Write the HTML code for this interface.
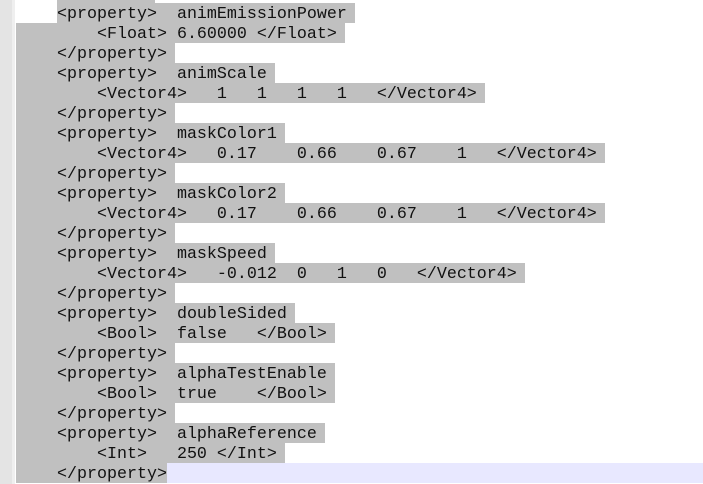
<!DOCTYPE html>
<html><head><meta charset="utf-8"><style>
html,body{margin:0;padding:0;width:703px;height:484px;overflow:hidden;background:#fff;position:relative}
.g1{position:absolute;left:0;top:0;width:12px;height:484px;background:#e4e4e4}
.g2{position:absolute;left:12px;top:0;width:3px;height:484px;background:#efefef}
.sel{position:absolute;height:20px;background:#c0c0c0}
.cur{position:absolute;left:16px;top:463px;width:687px;height:20px;background:#e8e8ff}
.t{position:absolute;font-family:"Liberation Mono","Courier New",monospace;font-size:16.67px;line-height:20px;height:20px;color:#111;white-space:pre;margin-top:2px}
</style></head><body>
<div class="g1"></div><div class="g2"></div>
<div class="cur"></div>
<div class="sel" style="left:57px;top:0;width:98px;height:3px"></div>
<div class="sel" style="left:57px;top:3px;width:298px"></div>
<div class="sel" style="left:16px;top:23px;width:329px"></div>
<div class="sel" style="left:16px;top:43px;width:159px"></div>
<div class="sel" style="left:16px;top:63px;width:259px"></div>
<div class="sel" style="left:16px;top:83px;width:469px"></div>
<div class="sel" style="left:16px;top:103px;width:159px"></div>
<div class="sel" style="left:16px;top:123px;width:269px"></div>
<div class="sel" style="left:16px;top:143px;width:589px"></div>
<div class="sel" style="left:16px;top:163px;width:159px"></div>
<div class="sel" style="left:16px;top:183px;width:269px"></div>
<div class="sel" style="left:16px;top:203px;width:589px"></div>
<div class="sel" style="left:16px;top:223px;width:159px"></div>
<div class="sel" style="left:16px;top:243px;width:259px"></div>
<div class="sel" style="left:16px;top:263px;width:509px"></div>
<div class="sel" style="left:16px;top:283px;width:159px"></div>
<div class="sel" style="left:16px;top:303px;width:279px"></div>
<div class="sel" style="left:16px;top:323px;width:319px"></div>
<div class="sel" style="left:16px;top:343px;width:159px"></div>
<div class="sel" style="left:16px;top:363px;width:319px"></div>
<div class="sel" style="left:16px;top:383px;width:319px"></div>
<div class="sel" style="left:16px;top:403px;width:159px"></div>
<div class="sel" style="left:16px;top:423px;width:309px"></div>
<div class="sel" style="left:16px;top:443px;width:269px"></div>
<div class="sel" style="left:16px;top:463px;width:151px"></div>

<div class="t" style="left:57px;top:3px">&lt;property&gt;  animEmissionPower</div>
<div class="t" style="left:57px;top:23px">    &lt;Float&gt; 6.60000 &lt;/Float&gt;</div>
<div class="t" style="left:57px;top:43px">&lt;/property&gt;</div>
<div class="t" style="left:57px;top:63px">&lt;property&gt;  animScale</div>
<div class="t" style="left:57px;top:83px">    &lt;Vector4&gt;   1   1   1   1   &lt;/Vector4&gt;</div>
<div class="t" style="left:57px;top:103px">&lt;/property&gt;</div>
<div class="t" style="left:57px;top:123px">&lt;property&gt;  maskColor1</div>
<div class="t" style="left:57px;top:143px">    &lt;Vector4&gt;   0.17    0.66    0.67    1   &lt;/Vector4&gt;</div>
<div class="t" style="left:57px;top:163px">&lt;/property&gt;</div>
<div class="t" style="left:57px;top:183px">&lt;property&gt;  maskColor2</div>
<div class="t" style="left:57px;top:203px">    &lt;Vector4&gt;   0.17    0.66    0.67    1   &lt;/Vector4&gt;</div>
<div class="t" style="left:57px;top:223px">&lt;/property&gt;</div>
<div class="t" style="left:57px;top:243px">&lt;property&gt;  maskSpeed</div>
<div class="t" style="left:57px;top:263px">    &lt;Vector4&gt;   -0.012  0   1   0   &lt;/Vector4&gt;</div>
<div class="t" style="left:57px;top:283px">&lt;/property&gt;</div>
<div class="t" style="left:57px;top:303px">&lt;property&gt;  doubleSided</div>
<div class="t" style="left:57px;top:323px">    &lt;Bool&gt;  false   &lt;/Bool&gt;</div>
<div class="t" style="left:57px;top:343px">&lt;/property&gt;</div>
<div class="t" style="left:57px;top:363px">&lt;property&gt;  alphaTestEnable</div>
<div class="t" style="left:57px;top:383px">    &lt;Bool&gt;  true    &lt;/Bool&gt;</div>
<div class="t" style="left:57px;top:403px">&lt;/property&gt;</div>
<div class="t" style="left:57px;top:423px">&lt;property&gt;  alphaReference</div>
<div class="t" style="left:57px;top:443px">    &lt;Int&gt;   250 &lt;/Int&gt;</div>
<div class="t" style="left:57px;top:463px">&lt;/property&gt;</div>
</body></html>
